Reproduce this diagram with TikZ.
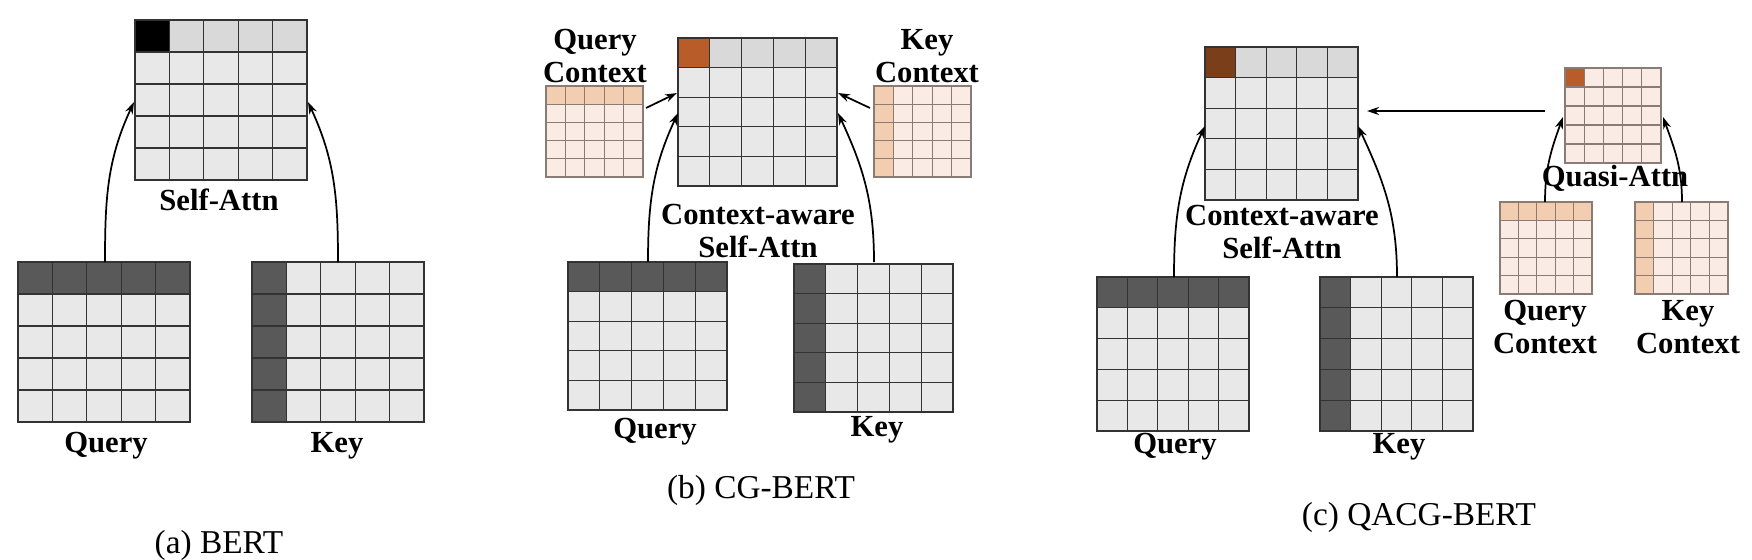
\documentclass[tikz,border=0pt]{standalone}
\usepackage{fontspec}
\setmainfont{Liberation Serif}
\usetikzlibrary{arrows.meta,calc}
\definecolor{gbase}{HTML}{E8E8E8}
\definecolor{gtop}{HTML}{D9D9D9}
\definecolor{gdark}{HTML}{595959}
\definecolor{oran}{HTML}{B85C2A}
\definecolor{brwn}{HTML}{7A3E1A}
\definecolor{pbase}{HTML}{FAEBE5}
\definecolor{ptop}{HTML}{F2CDB0}
\definecolor{gline}{HTML}{333333}
\definecolor{pline}{HTML}{8A7C74}
% name, x1,y1,x2,y2, base, top row, left col, corner
\newcommand\mgrid[9]{%
  \node[inner sep=0pt,outer sep=0pt,minimum width={(#4-#2)*0.75pt},minimum height={(#5-#3)*0.75pt},fill=#6] (#1) at ({(#2+#4)/2},{(#3+#5)/2}) {};
  \pgfmathsetmacro\cw{(#4-#2)/5}\pgfmathsetmacro\ch{(#5-#3)/5}
  \fill[#7] (#2,#3) rectangle (#4,#3+\ch);
  \fill[#8] (#2,#3) rectangle (#2+\cw,#5);
  \fill[#9] (#2,#3) rectangle (#2+\cw,#3+\ch);
  \foreach \i in {1,...,4}{
    \draw[gl] (#2+\i*\cw,#3) -- (#2+\i*\cw,#5);
    \draw[gl] (#2,#3+\i*\ch) -- (#4,#3+\i*\ch);}
  \draw[gl] (#1.north west) rectangle (#1.south east);
}
\begin{document}
\begin{tikzpicture}[x=0.75pt,y=-0.75pt,
  lab/.style={font=\fontsize{23}{25}\selectfont\bfseries,align=center,inner sep=0pt},
  captxt/.style={font=\fontsize{25}{28}\selectfont,inner sep=0pt},
  arr/.style={line width=1.3pt,-{Stealth[length=9pt,width=6pt]}}]
\useasboundingbox (0,0) rectangle (1752,560);
% ---------- (a)
\tikzset{gl/.style={line width=0.9pt,gline}}
\mgrid{asa}{135}{20}{307}{180}{gbase}{gtop}{gbase}{black}
\mgrid{aq}{18}{262}{190}{422}{gbase}{gdark}{gbase}{gdark}
\mgrid{ak}{252}{262}{424}{422}{gbase}{gbase}{gdark}{gdark}
\node[lab] (asal) at (219,200) {Self-Attn};
\node[lab] (aql) at (106,446) {Query};
\node[lab] (akl) at (337,446) {Key};
\node[captxt] (acap) at (219,545) {(a) BERT};
\coordinate (aqs) at (105,262); \coordinate (aqe) at (134,102);
\coordinate (aks) at (338,262); \coordinate (ake) at (308,102);
\draw[arr] (aqs) to[out=90,in=-115] (aqe);
\draw[arr] (aks) to[out=90,in=-65] (ake);
% ---------- (b)
\mgrid{bsa}{678}{38}{837}{186}{gbase}{gtop}{gbase}{oran}
\mgrid{bq}{568}{262}{727}{410}{gbase}{gdark}{gbase}{gdark}
\mgrid{bk}{794}{264}{953}{412}{gbase}{gbase}{gdark}{gdark}
\tikzset{gl/.style={line width=0.8pt,pline}}
\mgrid{bqc}{546}{86}{643}{177}{pbase}{ptop}{pbase}{ptop}
\mgrid{bkc}{874}{86}{971}{177}{pbase}{pbase}{ptop}{ptop}
\tikzset{gl/.style={line width=0.9pt,gline}}
\node[lab] (bqcl) at (595,56) {Query\\Context};
\node[lab] (bkcl) at (927,56) {Key\\Context};
\node[lab] (bsal) at (758,231) {Context-aware\\Self-Attn};
\node[lab] (bql) at (655,432) {Query};
\node[lab] (bkl) at (877,430) {Key};
\node[captxt] (bcap) at (761,490) {(b) CG-BERT};
\coordinate (bqs) at (648,262); \coordinate (bqe) at (678,113);
\coordinate (bks) at (874,262); \coordinate (bke) at (838,113);
\coordinate (bqcs) at (646,108); \coordinate (bqce) at (677,93);
\coordinate (bkcs) at (870,108); \coordinate (bkce) at (838,93);
\draw[arr] (bqs) to[out=90,in=-115] (bqe);
\draw[arr] (bks) to[out=90,in=-65] (bke);
\draw[arr] (bqcs) -- (bqce);
\draw[arr] (bkcs) -- (bkce);
% ---------- (c)
\mgrid{csa}{1205}{47}{1358}{200}{gbase}{gtop}{gbase}{brwn}
\mgrid{cq}{1097}{277}{1249}{431}{gbase}{gdark}{gbase}{gdark}
\mgrid{ck}{1320}{277}{1473}{431}{gbase}{gbase}{gdark}{gdark}
\tikzset{gl/.style={line width=0.8pt,pline}}
\mgrid{cqa}{1565}{68}{1661}{163}{pbase}{pbase}{pbase}{oran}
\mgrid{cqc}{1500}{202}{1592}{294}{pbase}{ptop}{pbase}{ptop}
\mgrid{ckc}{1635}{202}{1728}{294}{pbase}{pbase}{ptop}{ptop}
\tikzset{gl/.style={line width=0.9pt,gline}}
\node[lab] (csal) at (1282,232) {Context-aware\\Self-Attn};
\node[lab] (cql) at (1175,447) {Query};
\node[lab] (ckl) at (1399,447) {Key};
\node[lab] (cqal) at (1615,178) {Quasi-Attn};
\node[lab] (cqcl) at (1545,327) {Query\\Context};
\node[lab] (ckcl) at (1688,327) {Key\\Context};
\node[captxt] (ccap) at (1419,517) {(c) QACG-BERT};
\coordinate (cqs) at (1174,277); \coordinate (cqe) at (1205,126);
\coordinate (cks) at (1397,277); \coordinate (cke) at (1358,126);
\coordinate (chs) at (1545,111); \coordinate (che) at (1367,111);
\coordinate (cqcs) at (1545,202); \coordinate (cqce) at (1563,117);
\coordinate (ckcs) at (1682,202); \coordinate (ckce) at (1663,117);
\draw[arr] (cqs) to[out=90,in=-115] (cqe);
\draw[arr] (cks) to[out=90,in=-65] (cke);
\draw[arr] (chs) -- (che);
\draw[arr] (cqcs) to[out=90,in=-110] (cqce);
\draw[arr] (ckcs) to[out=90,in=-70] (ckce);
\end{tikzpicture}
\end{document}
